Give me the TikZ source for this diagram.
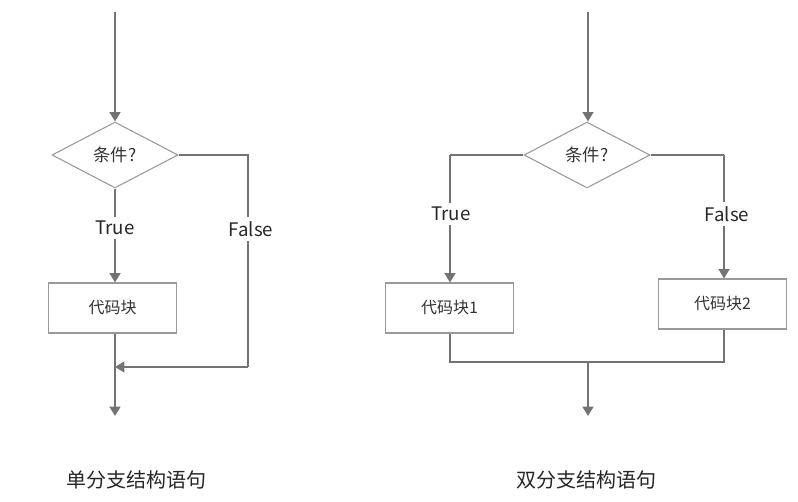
\documentclass[tikz,border=0pt]{standalone}
\usepackage{fontspec}
\setmainfont{Noto Sans CJK SC}
\usetikzlibrary{shapes.geometric,arrows.meta}
\begin{document}
\begin{tikzpicture}[x=0.75pt,y=-0.75pt,
  ln/.style={draw=black!55,line width=1.6pt},
  arr/.style={ln,-{Triangle[length=7pt,width=8pt]}},
  dia/.style={diamond,draw=black!40,line width=0.8pt,aspect=1.85,minimum width=126*0.75pt,minimum height=66*0.75pt,inner sep=0pt,font=\fontsize{13pt}{15pt}\selectfont,text=black!80},
  blk/.style={rectangle,draw=black!40,line width=0.8pt,minimum width=128*0.75pt,minimum height=50*0.75pt,inner sep=0pt,font=\fontsize{12pt}{14pt}\selectfont,text=black!80},
  lbl/.style={font=\fontsize{14pt}{16pt}\selectfont,text=black!85},
  captxt/.style={font=\fontsize{15pt}{17pt}\selectfont,text=black!85}]
\useasboundingbox (0,0) rectangle (798,502);
% left
\coordinate (ls) at (115,12);
\node[dia] (d1) at (115,155) {条件?};
\node[blk] (b1) at (112.5,308) {代码块};
\coordinate (le) at (115,416);
\coordinate (lf1) at (248,155);
\coordinate (lf2) at (248,367);
\coordinate (lj) at (115,367);
\draw[arr] (ls) -- (d1.north);
\draw[arr] (d1.south) -- (d1.south |- b1.north);
\draw[arr] (b1.south -| d1.south) -- (le);
\draw[ln] (d1.east) -- (lf1) -- (lf2);
\draw[arr] (lf2) -- (lj);
\node[lbl,fill=white] (t1) at (115,228) {True};
\node[lbl,fill=white] (f1) at (251,229) {False};
\node[captxt] (c1) at (136,480) {单分支结构语句};
% right
\coordinate (rs) at (588,12);
\node[dia] (d2) at (587,155) {条件?};
\node[blk] (b2) at (449.5,308) {代码块1};
\node[blk] (b3) at (722.5,304) {代码块2};
\coordinate (rl) at (450,155);
\coordinate (rr) at (724,155);
\coordinate (m1) at (450,362);
\coordinate (m2) at (724,362);
\coordinate (mm) at (588,362);
\coordinate (re) at (588,416);
\draw[arr] (rs) -- (rs |- d2.north);
\draw[ln] (d2.west) -- (rl);
\draw[arr] (rl) -- (rl |- b2.north);
\draw[ln] (d2.east) -- (rr);
\draw[arr] (rr) -- (rr |- b3.north);
\draw[ln] (rl |- b2.south) -- (m1) -- (m2) -- (rr |- b3.south);
\draw[arr] (mm) -- (re);
\node[lbl,fill=white] (t2) at (451,214) {True};
\node[lbl,fill=white] (f2) at (727,214) {False};
\node[captxt] (c2) at (586,480) {双分支结构语句};
\end{tikzpicture}
\end{document}
